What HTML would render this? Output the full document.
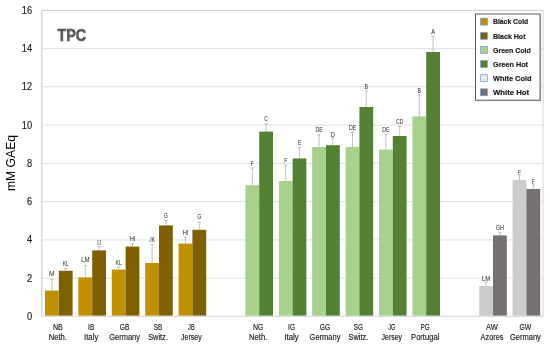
<!DOCTYPE html>
<html><head><meta charset="utf-8"><title>TPC</title>
<style>html,body{margin:0;padding:0;background:#fff}svg{display:block}</style></head>
<body>
<svg width="550" height="346" viewBox="0 0 550 346" font-family="'Liberation Sans', Arial, sans-serif">
<rect width="550" height="346" fill="#fff"/>
<line x1="41.8" x2="543.2" y1="278.1" y2="278.1" stroke="#e1e1e1" stroke-width="1"/>
<line x1="41.8" x2="543.2" y1="239.9" y2="239.9" stroke="#e1e1e1" stroke-width="1"/>
<line x1="41.8" x2="543.2" y1="201.6" y2="201.6" stroke="#e1e1e1" stroke-width="1"/>
<line x1="41.8" x2="543.2" y1="163.4" y2="163.4" stroke="#e1e1e1" stroke-width="1"/>
<line x1="41.8" x2="543.2" y1="125.1" y2="125.1" stroke="#e1e1e1" stroke-width="1"/>
<line x1="41.8" x2="543.2" y1="86.8" y2="86.8" stroke="#e1e1e1" stroke-width="1"/>
<line x1="41.8" x2="543.2" y1="48.6" y2="48.6" stroke="#e1e1e1" stroke-width="1"/>
<line x1="41.8" x2="543.2" y1="10.3" y2="10.3" stroke="#e1e1e1" stroke-width="1"/>
<line x1="543.2" x2="543.2" y1="10.4" y2="316.4" stroke="#d9d9d9" stroke-width="1"/>
<line x1="51.9" x2="51.9" y1="279.6" y2="290.6" stroke="#a9a9a9" stroke-width="0.7"/>
<line x1="50.2" x2="53.6" y1="279.6" y2="279.6" stroke="#a9a9a9" stroke-width="0.7"/>
<rect x="45.0" y="290.6" width="13.8" height="25.1" fill="#BF9000"/>
<text x="51.9" y="276.3" font-size="6.5" fill="#262626" text-anchor="middle" textLength="5.6" lengthAdjust="spacingAndGlyphs">M</text>
<line x1="65.7" x2="65.7" y1="268.6" y2="270.8" stroke="#a9a9a9" stroke-width="0.7"/>
<line x1="64.0" x2="67.4" y1="268.6" y2="268.6" stroke="#a9a9a9" stroke-width="0.7"/>
<rect x="58.8" y="270.8" width="13.8" height="44.9" fill="#7F6000"/>
<text x="65.7" y="265.7" font-size="6.5" fill="#262626" text-anchor="middle" textLength="6.1" lengthAdjust="spacingAndGlyphs">KL</text>
<text x="57.8" y="330.2" font-size="8.5" fill="#1a1a1a" stroke="#1a1a1a" stroke-width="0.15" text-anchor="middle" textLength="9.8" lengthAdjust="spacingAndGlyphs">NB</text>
<text x="57.8" y="340.2" font-size="8.5" fill="#1a1a1a" stroke="#1a1a1a" stroke-width="0.15" text-anchor="middle" textLength="18.3" lengthAdjust="spacingAndGlyphs">Neth.</text>
<line x1="85.3" x2="85.3" y1="265.4" y2="277.4" stroke="#a9a9a9" stroke-width="0.7"/>
<line x1="83.6" x2="87.0" y1="265.4" y2="265.4" stroke="#a9a9a9" stroke-width="0.7"/>
<rect x="78.4" y="277.4" width="13.8" height="38.3" fill="#BF9000"/>
<text x="85.3" y="262.3" font-size="6.5" fill="#262626" text-anchor="middle" textLength="8.3" lengthAdjust="spacingAndGlyphs">LM</text>
<line x1="99.1" x2="99.1" y1="246.6" y2="250.4" stroke="#a9a9a9" stroke-width="0.7"/>
<line x1="97.4" x2="100.8" y1="246.6" y2="246.6" stroke="#a9a9a9" stroke-width="0.7"/>
<rect x="92.2" y="250.4" width="13.8" height="65.3" fill="#7F6000"/>
<text x="99.1" y="244.9" font-size="6.5" fill="#262626" text-anchor="middle" textLength="3.7" lengthAdjust="spacingAndGlyphs">IJ</text>
<text x="91.2" y="330.2" font-size="8.5" fill="#1a1a1a" stroke="#1a1a1a" stroke-width="0.15" text-anchor="middle" textLength="6.2" lengthAdjust="spacingAndGlyphs">IB</text>
<text x="91.2" y="340.2" font-size="8.5" fill="#1a1a1a" stroke="#1a1a1a" stroke-width="0.15" text-anchor="middle" textLength="14.4" lengthAdjust="spacingAndGlyphs">Italy</text>
<line x1="118.7" x2="118.7" y1="267.0" y2="269.6" stroke="#a9a9a9" stroke-width="0.7"/>
<line x1="117.0" x2="120.4" y1="267.0" y2="267.0" stroke="#a9a9a9" stroke-width="0.7"/>
<rect x="111.8" y="269.6" width="13.8" height="46.1" fill="#BF9000"/>
<text x="118.7" y="264.7" font-size="6.5" fill="#262626" text-anchor="middle" textLength="6.1" lengthAdjust="spacingAndGlyphs">KL</text>
<line x1="132.5" x2="132.5" y1="243.6" y2="246.6" stroke="#a9a9a9" stroke-width="0.7"/>
<line x1="130.8" x2="134.2" y1="243.6" y2="243.6" stroke="#a9a9a9" stroke-width="0.7"/>
<rect x="125.6" y="246.6" width="13.8" height="69.1" fill="#7F6000"/>
<text x="132.5" y="240.7" font-size="6.5" fill="#262626" text-anchor="middle" textLength="5.7" lengthAdjust="spacingAndGlyphs">HI</text>
<text x="124.6" y="330.2" font-size="8.5" fill="#1a1a1a" stroke="#1a1a1a" stroke-width="0.15" text-anchor="middle" textLength="9.6" lengthAdjust="spacingAndGlyphs">GB</text>
<text x="124.6" y="340.2" font-size="8.5" fill="#1a1a1a" stroke="#1a1a1a" stroke-width="0.15" text-anchor="middle" textLength="30.8" lengthAdjust="spacingAndGlyphs">Germany</text>
<line x1="152.1" x2="152.1" y1="244.4" y2="263.0" stroke="#a9a9a9" stroke-width="0.7"/>
<line x1="150.4" x2="153.8" y1="244.4" y2="244.4" stroke="#a9a9a9" stroke-width="0.7"/>
<rect x="145.2" y="263.0" width="13.8" height="52.7" fill="#BF9000"/>
<text x="152.1" y="242.3" font-size="6.5" fill="#262626" text-anchor="middle" textLength="5.5" lengthAdjust="spacingAndGlyphs">JK</text>
<line x1="165.9" x2="165.9" y1="220.4" y2="225.4" stroke="#a9a9a9" stroke-width="0.7"/>
<line x1="164.2" x2="167.6" y1="220.4" y2="220.4" stroke="#a9a9a9" stroke-width="0.7"/>
<rect x="159.0" y="225.4" width="13.8" height="90.3" fill="#7F6000"/>
<text x="165.9" y="217.9" font-size="6.5" fill="#262626" text-anchor="middle" textLength="4.1" lengthAdjust="spacingAndGlyphs">G</text>
<text x="158.0" y="330.2" font-size="8.5" fill="#1a1a1a" stroke="#1a1a1a" stroke-width="0.15" text-anchor="middle" textLength="8.6" lengthAdjust="spacingAndGlyphs">SB</text>
<text x="158.0" y="340.2" font-size="8.5" fill="#1a1a1a" stroke="#1a1a1a" stroke-width="0.15" text-anchor="middle" textLength="19.6" lengthAdjust="spacingAndGlyphs">Switz.</text>
<line x1="185.5" x2="185.5" y1="237.4" y2="243.6" stroke="#a9a9a9" stroke-width="0.7"/>
<line x1="183.8" x2="187.2" y1="237.4" y2="237.4" stroke="#a9a9a9" stroke-width="0.7"/>
<rect x="178.6" y="243.6" width="13.8" height="72.1" fill="#BF9000"/>
<text x="185.5" y="235.3" font-size="6.5" fill="#262626" text-anchor="middle" textLength="5.7" lengthAdjust="spacingAndGlyphs">HI</text>
<line x1="199.3" x2="199.3" y1="222.4" y2="229.8" stroke="#a9a9a9" stroke-width="0.7"/>
<line x1="197.6" x2="201.0" y1="222.4" y2="222.4" stroke="#a9a9a9" stroke-width="0.7"/>
<rect x="192.4" y="229.8" width="13.8" height="85.9" fill="#7F6000"/>
<text x="199.3" y="219.3" font-size="6.5" fill="#262626" text-anchor="middle" textLength="4.1" lengthAdjust="spacingAndGlyphs">G</text>
<text x="191.4" y="330.2" font-size="8.5" fill="#1a1a1a" stroke="#1a1a1a" stroke-width="0.15" text-anchor="middle" textLength="6.6" lengthAdjust="spacingAndGlyphs">JB</text>
<text x="191.4" y="340.2" font-size="8.5" fill="#1a1a1a" stroke="#1a1a1a" stroke-width="0.15" text-anchor="middle" textLength="20.6" lengthAdjust="spacingAndGlyphs">Jersey</text>
<line x1="252.3" x2="252.3" y1="168.0" y2="185.2" stroke="#a9a9a9" stroke-width="0.7"/>
<line x1="250.6" x2="254.0" y1="168.0" y2="168.0" stroke="#a9a9a9" stroke-width="0.7"/>
<rect x="245.4" y="185.2" width="13.8" height="130.5" fill="#A9D18E"/>
<text x="252.3" y="165.7" font-size="6.5" fill="#262626" text-anchor="middle" textLength="3.0" lengthAdjust="spacingAndGlyphs">F</text>
<line x1="266.1" x2="266.1" y1="124.0" y2="131.6" stroke="#a9a9a9" stroke-width="0.7"/>
<line x1="264.4" x2="267.8" y1="124.0" y2="124.0" stroke="#a9a9a9" stroke-width="0.7"/>
<rect x="259.2" y="131.6" width="13.8" height="184.1" fill="#548235"/>
<text x="266.1" y="120.9" font-size="6.5" fill="#262626" text-anchor="middle" textLength="3.5" lengthAdjust="spacingAndGlyphs">C</text>
<text x="258.2" y="330.2" font-size="8.5" fill="#1a1a1a" stroke="#1a1a1a" stroke-width="0.15" text-anchor="middle" textLength="10.4" lengthAdjust="spacingAndGlyphs">NG</text>
<text x="258.2" y="340.2" font-size="8.5" fill="#1a1a1a" stroke="#1a1a1a" stroke-width="0.15" text-anchor="middle" textLength="18.3" lengthAdjust="spacingAndGlyphs">Neth.</text>
<line x1="285.7" x2="285.7" y1="165.2" y2="181.0" stroke="#a9a9a9" stroke-width="0.7"/>
<line x1="284.0" x2="287.4" y1="165.2" y2="165.2" stroke="#a9a9a9" stroke-width="0.7"/>
<rect x="278.8" y="181.0" width="13.8" height="134.7" fill="#A9D18E"/>
<text x="285.7" y="162.9" font-size="6.5" fill="#262626" text-anchor="middle" textLength="3.0" lengthAdjust="spacingAndGlyphs">F</text>
<line x1="299.5" x2="299.5" y1="147.4" y2="158.4" stroke="#a9a9a9" stroke-width="0.7"/>
<line x1="297.8" x2="301.2" y1="147.4" y2="147.4" stroke="#a9a9a9" stroke-width="0.7"/>
<rect x="292.6" y="158.4" width="13.8" height="157.3" fill="#548235"/>
<text x="299.5" y="145.3" font-size="6.5" fill="#262626" text-anchor="middle" textLength="3.2" lengthAdjust="spacingAndGlyphs">E</text>
<text x="291.6" y="330.2" font-size="8.5" fill="#1a1a1a" stroke="#1a1a1a" stroke-width="0.15" text-anchor="middle" textLength="7.0" lengthAdjust="spacingAndGlyphs">IG</text>
<text x="291.6" y="340.2" font-size="8.5" fill="#1a1a1a" stroke="#1a1a1a" stroke-width="0.15" text-anchor="middle" textLength="14.4" lengthAdjust="spacingAndGlyphs">Italy</text>
<line x1="319.1" x2="319.1" y1="134.4" y2="147.0" stroke="#a9a9a9" stroke-width="0.7"/>
<line x1="317.4" x2="320.8" y1="134.4" y2="134.4" stroke="#a9a9a9" stroke-width="0.7"/>
<rect x="312.2" y="147.0" width="13.8" height="168.7" fill="#A9D18E"/>
<text x="319.1" y="132.3" font-size="6.5" fill="#262626" text-anchor="middle" textLength="7.2" lengthAdjust="spacingAndGlyphs">DE</text>
<line x1="332.9" x2="332.9" y1="138.0" y2="145.2" stroke="#a9a9a9" stroke-width="0.7"/>
<line x1="331.2" x2="334.6" y1="138.0" y2="138.0" stroke="#a9a9a9" stroke-width="0.7"/>
<rect x="326.0" y="145.2" width="13.8" height="170.5" fill="#548235"/>
<text x="332.9" y="137.3" font-size="6.5" fill="#262626" text-anchor="middle" textLength="4.0" lengthAdjust="spacingAndGlyphs">D</text>
<text x="325.0" y="330.2" font-size="8.5" fill="#1a1a1a" stroke="#1a1a1a" stroke-width="0.15" text-anchor="middle" textLength="10.4" lengthAdjust="spacingAndGlyphs">GG</text>
<text x="325.0" y="340.2" font-size="8.5" fill="#1a1a1a" stroke="#1a1a1a" stroke-width="0.15" text-anchor="middle" textLength="30.8" lengthAdjust="spacingAndGlyphs">Germany</text>
<line x1="352.5" x2="352.5" y1="132.4" y2="147.0" stroke="#a9a9a9" stroke-width="0.7"/>
<line x1="350.8" x2="354.2" y1="132.4" y2="132.4" stroke="#a9a9a9" stroke-width="0.7"/>
<rect x="345.6" y="147.0" width="13.8" height="168.7" fill="#A9D18E"/>
<text x="352.5" y="129.9" font-size="6.5" fill="#262626" text-anchor="middle" textLength="7.2" lengthAdjust="spacingAndGlyphs">DE</text>
<line x1="366.3" x2="366.3" y1="91.0" y2="107.0" stroke="#a9a9a9" stroke-width="0.7"/>
<line x1="364.6" x2="368.0" y1="91.0" y2="91.0" stroke="#a9a9a9" stroke-width="0.7"/>
<rect x="359.4" y="107.0" width="13.8" height="208.7" fill="#548235"/>
<text x="366.3" y="88.9" font-size="6.5" fill="#262626" text-anchor="middle" textLength="3.5" lengthAdjust="spacingAndGlyphs">B</text>
<text x="358.4" y="330.2" font-size="8.5" fill="#1a1a1a" stroke="#1a1a1a" stroke-width="0.15" text-anchor="middle" textLength="9.2" lengthAdjust="spacingAndGlyphs">SG</text>
<text x="358.4" y="340.2" font-size="8.5" fill="#1a1a1a" stroke="#1a1a1a" stroke-width="0.15" text-anchor="middle" textLength="19.6" lengthAdjust="spacingAndGlyphs">Switz.</text>
<line x1="385.9" x2="385.9" y1="134.4" y2="149.6" stroke="#a9a9a9" stroke-width="0.7"/>
<line x1="384.2" x2="387.6" y1="134.4" y2="134.4" stroke="#a9a9a9" stroke-width="0.7"/>
<rect x="379.0" y="149.6" width="13.8" height="166.1" fill="#A9D18E"/>
<text x="385.9" y="131.9" font-size="6.5" fill="#262626" text-anchor="middle" textLength="7.2" lengthAdjust="spacingAndGlyphs">DE</text>
<line x1="399.7" x2="399.7" y1="126.4" y2="136.0" stroke="#a9a9a9" stroke-width="0.7"/>
<line x1="398.0" x2="401.4" y1="126.4" y2="126.4" stroke="#a9a9a9" stroke-width="0.7"/>
<rect x="392.8" y="136.0" width="13.8" height="179.7" fill="#548235"/>
<text x="399.7" y="123.9" font-size="6.5" fill="#262626" text-anchor="middle" textLength="7.5" lengthAdjust="spacingAndGlyphs">CD</text>
<text x="391.8" y="330.2" font-size="8.5" fill="#1a1a1a" stroke="#1a1a1a" stroke-width="0.15" text-anchor="middle" textLength="7.2" lengthAdjust="spacingAndGlyphs">JG</text>
<text x="391.8" y="340.2" font-size="8.5" fill="#1a1a1a" stroke="#1a1a1a" stroke-width="0.15" text-anchor="middle" textLength="20.6" lengthAdjust="spacingAndGlyphs">Jersey</text>
<line x1="419.3" x2="419.3" y1="95.0" y2="116.4" stroke="#a9a9a9" stroke-width="0.7"/>
<line x1="417.6" x2="421.0" y1="95.0" y2="95.0" stroke="#a9a9a9" stroke-width="0.7"/>
<rect x="412.4" y="116.4" width="13.8" height="199.3" fill="#A9D18E"/>
<text x="419.3" y="92.7" font-size="6.5" fill="#262626" text-anchor="middle" textLength="3.5" lengthAdjust="spacingAndGlyphs">B</text>
<line x1="433.1" x2="433.1" y1="36.4" y2="52.0" stroke="#a9a9a9" stroke-width="0.7"/>
<line x1="431.4" x2="434.8" y1="36.4" y2="36.4" stroke="#a9a9a9" stroke-width="0.7"/>
<rect x="426.2" y="52.0" width="13.8" height="263.7" fill="#548235"/>
<text x="433.1" y="33.7" font-size="6.5" fill="#262626" text-anchor="middle" textLength="3.8" lengthAdjust="spacingAndGlyphs">A</text>
<text x="425.2" y="330.2" font-size="8.5" fill="#1a1a1a" stroke="#1a1a1a" stroke-width="0.15" text-anchor="middle" textLength="9.2" lengthAdjust="spacingAndGlyphs">PG</text>
<text x="425.2" y="340.2" font-size="8.5" fill="#1a1a1a" stroke="#1a1a1a" stroke-width="0.15" text-anchor="middle" textLength="28.2" lengthAdjust="spacingAndGlyphs">Portugal</text>
<line x1="486.1" x2="486.1" y1="282.0" y2="286.0" stroke="#a9a9a9" stroke-width="0.7"/>
<line x1="484.4" x2="487.8" y1="282.0" y2="282.0" stroke="#a9a9a9" stroke-width="0.7"/>
<rect x="479.2" y="286.0" width="13.8" height="29.7" fill="#CCCCCC"/>
<text x="486.1" y="281.3" font-size="6.5" fill="#262626" text-anchor="middle" textLength="8.3" lengthAdjust="spacingAndGlyphs">LM</text>
<line x1="499.9" x2="499.9" y1="232.6" y2="235.4" stroke="#a9a9a9" stroke-width="0.7"/>
<line x1="498.2" x2="501.6" y1="232.6" y2="232.6" stroke="#a9a9a9" stroke-width="0.7"/>
<rect x="493.0" y="235.4" width="13.8" height="80.3" fill="#767171"/>
<text x="499.9" y="230.3" font-size="6.5" fill="#262626" text-anchor="middle" textLength="8.2" lengthAdjust="spacingAndGlyphs">GH</text>
<text x="492.0" y="330.2" font-size="8.5" fill="#1a1a1a" stroke="#1a1a1a" stroke-width="0.15" text-anchor="middle" textLength="11.8" lengthAdjust="spacingAndGlyphs">AW</text>
<text x="492.0" y="340.2" font-size="8.5" fill="#1a1a1a" stroke="#1a1a1a" stroke-width="0.15" text-anchor="middle" textLength="22.8" lengthAdjust="spacingAndGlyphs">Azores</text>
<line x1="519.5" x2="519.5" y1="175.0" y2="180.0" stroke="#a9a9a9" stroke-width="0.7"/>
<line x1="517.8" x2="521.2" y1="175.0" y2="175.0" stroke="#a9a9a9" stroke-width="0.7"/>
<rect x="512.6" y="180.0" width="13.8" height="135.7" fill="#CCCCCC"/>
<text x="519.5" y="174.9" font-size="6.5" fill="#262626" text-anchor="middle" textLength="3.0" lengthAdjust="spacingAndGlyphs">F</text>
<line x1="533.3" x2="533.3" y1="184.0" y2="189.0" stroke="#a9a9a9" stroke-width="0.7"/>
<line x1="531.6" x2="535.0" y1="184.0" y2="184.0" stroke="#a9a9a9" stroke-width="0.7"/>
<rect x="526.4" y="189.0" width="13.8" height="126.7" fill="#767171"/>
<text x="533.3" y="183.9" font-size="6.5" fill="#262626" text-anchor="middle" textLength="3.0" lengthAdjust="spacingAndGlyphs">F</text>
<text x="525.4" y="330.2" font-size="8.5" fill="#1a1a1a" stroke="#1a1a1a" stroke-width="0.15" text-anchor="middle" textLength="11.8" lengthAdjust="spacingAndGlyphs">GW</text>
<text x="525.4" y="340.2" font-size="8.5" fill="#1a1a1a" stroke="#1a1a1a" stroke-width="0.15" text-anchor="middle" textLength="30.8" lengthAdjust="spacingAndGlyphs">Germany</text>
<line x1="41.8" x2="41.8" y1="10.4" y2="316.4" stroke="#c6c6c6" stroke-width="1"/>
<line x1="41.8" x2="543.2" y1="10.6" y2="10.6" stroke="#cfcfcf" stroke-width="1"/>
<line x1="41.8" x2="543.2" y1="316.29999999999995" y2="316.29999999999995" stroke="#d2d2d2" stroke-width="1"/>
<text transform="translate(32.2,319.9) scale(0.93,1)" font-size="10" fill="#1a1a1a" stroke="#1a1a1a" stroke-width="0.15" text-anchor="end">0</text>
<text transform="translate(32.2,281.6) scale(0.93,1)" font-size="10" fill="#1a1a1a" stroke="#1a1a1a" stroke-width="0.15" text-anchor="end">2</text>
<text transform="translate(32.2,243.4) scale(0.93,1)" font-size="10" fill="#1a1a1a" stroke="#1a1a1a" stroke-width="0.15" text-anchor="end">4</text>
<text transform="translate(32.2,205.1) scale(0.93,1)" font-size="10" fill="#1a1a1a" stroke="#1a1a1a" stroke-width="0.15" text-anchor="end">6</text>
<text transform="translate(32.2,166.9) scale(0.93,1)" font-size="10" fill="#1a1a1a" stroke="#1a1a1a" stroke-width="0.15" text-anchor="end">8</text>
<text transform="translate(32.2,128.6) scale(0.93,1)" font-size="10" fill="#1a1a1a" stroke="#1a1a1a" stroke-width="0.15" text-anchor="end">10</text>
<text transform="translate(32.2,90.3) scale(0.93,1)" font-size="10" fill="#1a1a1a" stroke="#1a1a1a" stroke-width="0.15" text-anchor="end">12</text>
<text transform="translate(32.2,52.1) scale(0.93,1)" font-size="10" fill="#1a1a1a" stroke="#1a1a1a" stroke-width="0.15" text-anchor="end">14</text>
<text transform="translate(32.2,13.8) scale(0.93,1)" font-size="10" fill="#1a1a1a" stroke="#1a1a1a" stroke-width="0.15" text-anchor="end">16</text>
<text transform="translate(15.3,163) rotate(-90)" font-size="12" fill="#000" text-anchor="middle" textLength="56" lengthAdjust="spacingAndGlyphs">mM GAEq</text>
<text x="57.4" y="41.2" font-size="15.6" font-weight="bold" fill="#595959" stroke="#595959" stroke-width="0.55" textLength="28.6" lengthAdjust="spacingAndGlyphs">TPC</text>
<rect x="476.0" y="14.5" width="64.7" height="86.2" fill="none" stroke="#b5b5b5" stroke-width="0.8"/>
<rect x="475.5" y="14.0" width="64.6" height="86.2" fill="#fff" stroke="#5a5a5a" stroke-width="1"/>
<rect x="480.5" y="18.2" width="6.9" height="6.9" fill="#BF9000" stroke="#7f9dd4" stroke-width="0.75"/>
<text x="493" y="24" font-size="8.0" font-weight="bold" fill="#1a1a1a" stroke="#1a1a1a" stroke-width="0.2" textLength="35.2" lengthAdjust="spacingAndGlyphs">Black Cold</text>
<rect x="480.5" y="32.4" width="6.9" height="6.9" fill="#7F6000" stroke="#7f9dd4" stroke-width="0.75"/>
<text x="493" y="39" font-size="8.0" font-weight="bold" fill="#1a1a1a" stroke="#1a1a1a" stroke-width="0.2" textLength="32.5" lengthAdjust="spacingAndGlyphs">Black Hot</text>
<rect x="480.5" y="46.5" width="6.9" height="6.9" fill="#A9D18E" stroke="#7f9dd4" stroke-width="0.75"/>
<text x="493" y="53" font-size="8.0" font-weight="bold" fill="#1a1a1a" stroke="#1a1a1a" stroke-width="0.2" textLength="37.8" lengthAdjust="spacingAndGlyphs">Green Cold</text>
<rect x="480.5" y="60.6" width="6.9" height="6.9" fill="#548235" stroke="#7f9dd4" stroke-width="0.75"/>
<text x="493" y="67" font-size="8.0" font-weight="bold" fill="#1a1a1a" stroke="#1a1a1a" stroke-width="0.2" textLength="35" lengthAdjust="spacingAndGlyphs">Green Hot</text>
<rect x="480.5" y="74.7" width="6.9" height="6.9" fill="#e4e8ee" stroke="#7f9dd4" stroke-width="0.75"/>
<text x="493" y="81" font-size="8.0" font-weight="bold" fill="#1a1a1a" stroke="#1a1a1a" stroke-width="0.2" textLength="38.5" lengthAdjust="spacingAndGlyphs">White Cold</text>
<rect x="480.5" y="88.8" width="6.9" height="6.9" fill="#767171" stroke="#7f9dd4" stroke-width="0.75"/>
<text x="493" y="95" font-size="8.0" font-weight="bold" fill="#1a1a1a" stroke="#1a1a1a" stroke-width="0.2" textLength="36" lengthAdjust="spacingAndGlyphs">White Hot</text>
</svg>
</body></html>
